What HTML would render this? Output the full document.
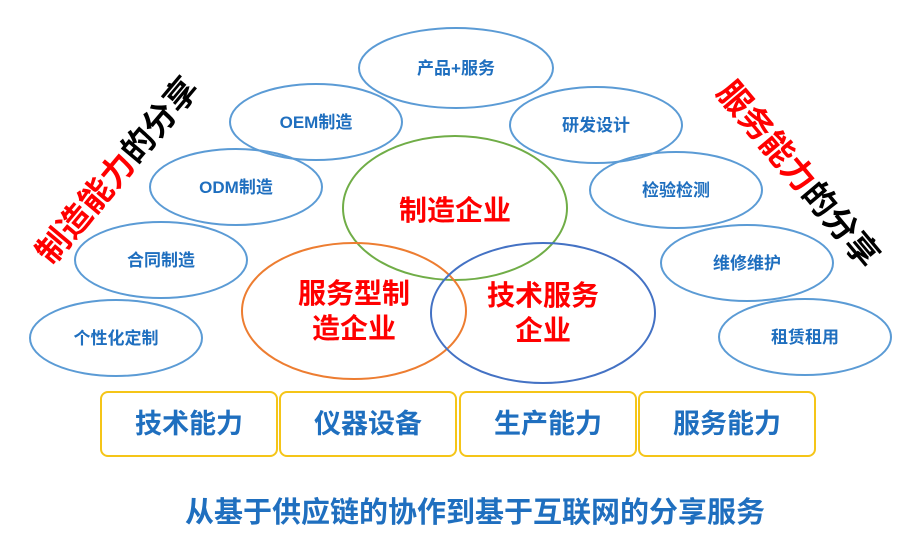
<!DOCTYPE html>
<html><head><meta charset="utf-8"><style>
body{margin:0;width:914px;height:544px;background:#fff;overflow:hidden;font-family:"Liberation Sans","Noto Sans CJK SC",sans-serif;position:relative}
.r{position:absolute;font-weight:bold;font-size:33px;white-space:nowrap;transform-origin:center}
.box{position:absolute;top:391px;width:174px;height:62px;border:2px solid #f5c518;border-radius:8px;color:#1f6fbf;font-weight:bold;font-size:27px;text-align:center;line-height:62px}
</style></head><body>
<svg width="914" height="544" style="position:absolute;left:0;top:0" font-family="Liberation Sans, Noto Sans CJK SC, sans-serif" font-weight="bold">
<g fill="none" stroke="#5b9bd5" stroke-width="2">
<ellipse cx="456" cy="68" rx="97" ry="40"/>
<ellipse cx="316" cy="122" rx="86" ry="38"/>
<ellipse cx="596" cy="125" rx="86" ry="38"/>
<ellipse cx="236" cy="187" rx="86" ry="38"/>
<ellipse cx="676" cy="190" rx="86" ry="38"/>
<ellipse cx="161" cy="260" rx="86" ry="38"/>
<ellipse cx="747" cy="263" rx="86" ry="38"/>
<ellipse cx="116" cy="338" rx="86" ry="38"/>
<ellipse cx="805" cy="337" rx="86" ry="38"/>
</g>
<ellipse cx="455" cy="208" rx="112" ry="72" fill="none" stroke="#70ad47" stroke-width="2"/>
<ellipse cx="354" cy="311" rx="112" ry="68" fill="none" stroke="#ed7d31" stroke-width="2"/>
<ellipse cx="543" cy="313" rx="112" ry="70" fill="none" stroke="#4472c4" stroke-width="2"/>
<g fill="#1f6fbf" font-size="17" text-anchor="middle">
<text x="456" y="74">产品+服务</text>
<text x="316" y="128">OEM制造</text>
<text x="596" y="131">研发设计</text>
<text x="236" y="193">ODM制造</text>
<text x="676" y="196">检验检测</text>
<text x="161" y="266">合同制造</text>
<text x="747" y="269">维修维护</text>
<text x="116" y="344">个性化定制</text>
<text x="805" y="343">租赁租用</text>
</g>
<g fill="#ff0000" font-size="28" text-anchor="middle">
<text x="455" y="220">制造企业</text>
<text x="354" y="303">服务型制</text>
<text x="354" y="338">造企业</text>
<text x="543" y="305">技术服务</text>
<text x="543" y="340">企业</text>
</g>
<text x="475" y="522" fill="#1f6fbf" font-size="29" text-anchor="middle">从基于供应链的协作到基于互联网的分享服务</text>
</svg>
<div class="r" style="left:0;top:145px;width:230px;text-align:center;transform:rotate(-50deg)"><span style="color:#f00">制造能力</span>的分享</div>
<div class="r" style="left:685px;top:148px;width:230px;text-align:center;transform:rotate(50deg)"><span style="color:#f00">服务能力</span>的分享</div>
<div class="box" style="left:100px">技术能力</div>
<div class="box" style="left:279px">仪器设备</div>
<div class="box" style="left:459px">生产能力</div>
<div class="box" style="left:638px">服务能力</div>
</body></html>
